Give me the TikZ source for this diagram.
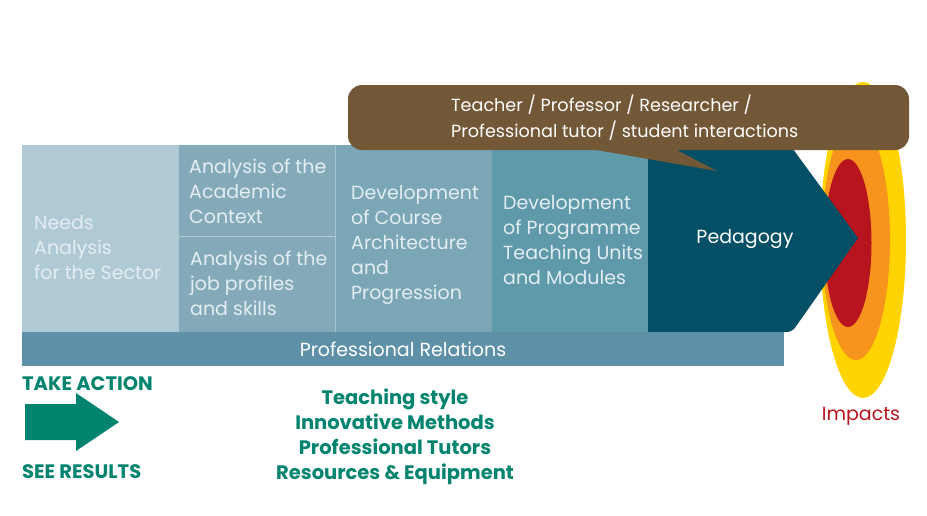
\documentclass[tikz,border=0pt]{standalone}
\usepackage{fontspec}
\setmainfont{Poppins}
\usetikzlibrary{positioning}
\definecolor{cA}{HTML}{B0CAD5}
\definecolor{cB}{HTML}{84AABA}
\definecolor{cC}{HTML}{7AA6B6}
\definecolor{cD}{HTML}{5F9AAA}
\definecolor{cPed}{HTML}{024F66}
\definecolor{cBar}{HTML}{5E90A8}
\definecolor{cBrown}{HTML}{725837}
\definecolor{cTeal}{HTML}{00846F}
\definecolor{cRed}{HTML}{B8141D}
\definecolor{cOrange}{HTML}{F7941D}
\definecolor{cYellow}{HTML}{FFD400}
\definecolor{cTxt}{HTML}{E4EDF1}
\tikzset{
  box/.style={inner sep=0pt, anchor=north west, minimum height=187pt},
  boxtxt/.style={inner sep=0pt, anchor=west, align=left, text=cTxt, font=\fontsize{19}{25}\selectfont},
  whitetxt/.style={inner sep=0pt, text=white, font=\fontsize{19}{25}\selectfont},
  tealtxt/.style={inner sep=0pt, text=cTeal, font=\bfseries\fontsize{19.5}{25}\selectfont},
}
\begin{document}
\begin{tikzpicture}[x=1pt,y=-1pt]
\useasboundingbox (0,0) rectangle (927,515);
% target ellipses
\fill[cYellow] (863,240) ellipse [x radius=43, y radius=158];
\fill[cOrange] (856,240) ellipse [x radius=34, y radius=120];
\fill[cRed] (848,243) ellipse [x radius=23.5, y radius=84];
% boxes
\node[box, fill=cA, minimum width=157pt] (b1) at (22,145) {};
\node[box, fill=cB, minimum width=156pt] (b2) at (179,145) {};
\node[box, fill=cC, minimum width=157pt] (b3) at (335,145) {};
\node[box, fill=cD, minimum width=156pt] (b4) at (492,145) {};
\draw[cB!60!white, line width=0.8pt] (b2.west |- 0,236) coordinate (s1) -- (b2.east |- 0,236) coordinate (s2);
\draw[cA!80!cC, line width=0.6pt] (b3.north west) -- (b3.south west);
% pedagogy arrow
\fill[cPed, rounded corners=0pt] (648,145) -- (790,145) -- (858,238) [rounded corners=5pt] -- (792,332) [rounded corners=0pt] -- (648,332) -- cycle;
\node[whitetxt] (ped) at (745,239.5) {Pedagogy};
% bar
\node[inner sep=0pt, anchor=north west, fill=cBar, minimum width=762pt, minimum height=34pt] (bar) at (22,332) {};
\node[whitetxt] (bartxt) at (403,349.5) {Professional Relations};
% texts in boxes
\node[boxtxt] (t1) at (34,248) {Needs\\Analysis\\for the Sector};
\node[boxtxt] (t2) at (189,191) {Analysis of the\\Academic\\Context};
\node[boxtxt] (t3) at (190,283.5) {Analysis of the\\job profiles\\and skills};
\node[boxtxt] (t4) at (351,245) {Development\\of Course\\Architecture\\and\\Progression};
\node[boxtxt] (t5) at (503,240.5) {Development\\of Programme\\Teaching Units\\and Modules};
% speech bubble
\fill[cBrown, rounded corners=14pt] (348,85) rectangle (909,150);
\fill[cBrown] (585,148) -- (717,171) -- (673,148) -- cycle;
\node[inner sep=0pt, anchor=west, align=left, text=white, font=\fontsize{17.6}{26}\selectfont] (bub) at (451,118) {Teacher / Professor / Researcher /\\Professional tutor / student interactions};
% bottom left
\node[tealtxt, anchor=west] (act) at (22,384) {TAKE ACTION};
\node[tealtxt, anchor=west] (res) at (22,472) {SEE RESULTS};
\fill[cTeal] (25,404) -- (76,404) -- (76,393) -- (119,422) -- (76,451) -- (76,440) -- (25,440) -- cycle;
\node[tealtxt, align=center] (list) at (395,436.5) {Teaching style\\Innovative Methods\\Professional Tutors\\Resources \& Equipment};
\node[inner sep=0pt, text=cRed, font=\fontsize{19}{25}\selectfont] (imp) at (861,416.5) {Impacts};
\end{tikzpicture}
\end{document}
